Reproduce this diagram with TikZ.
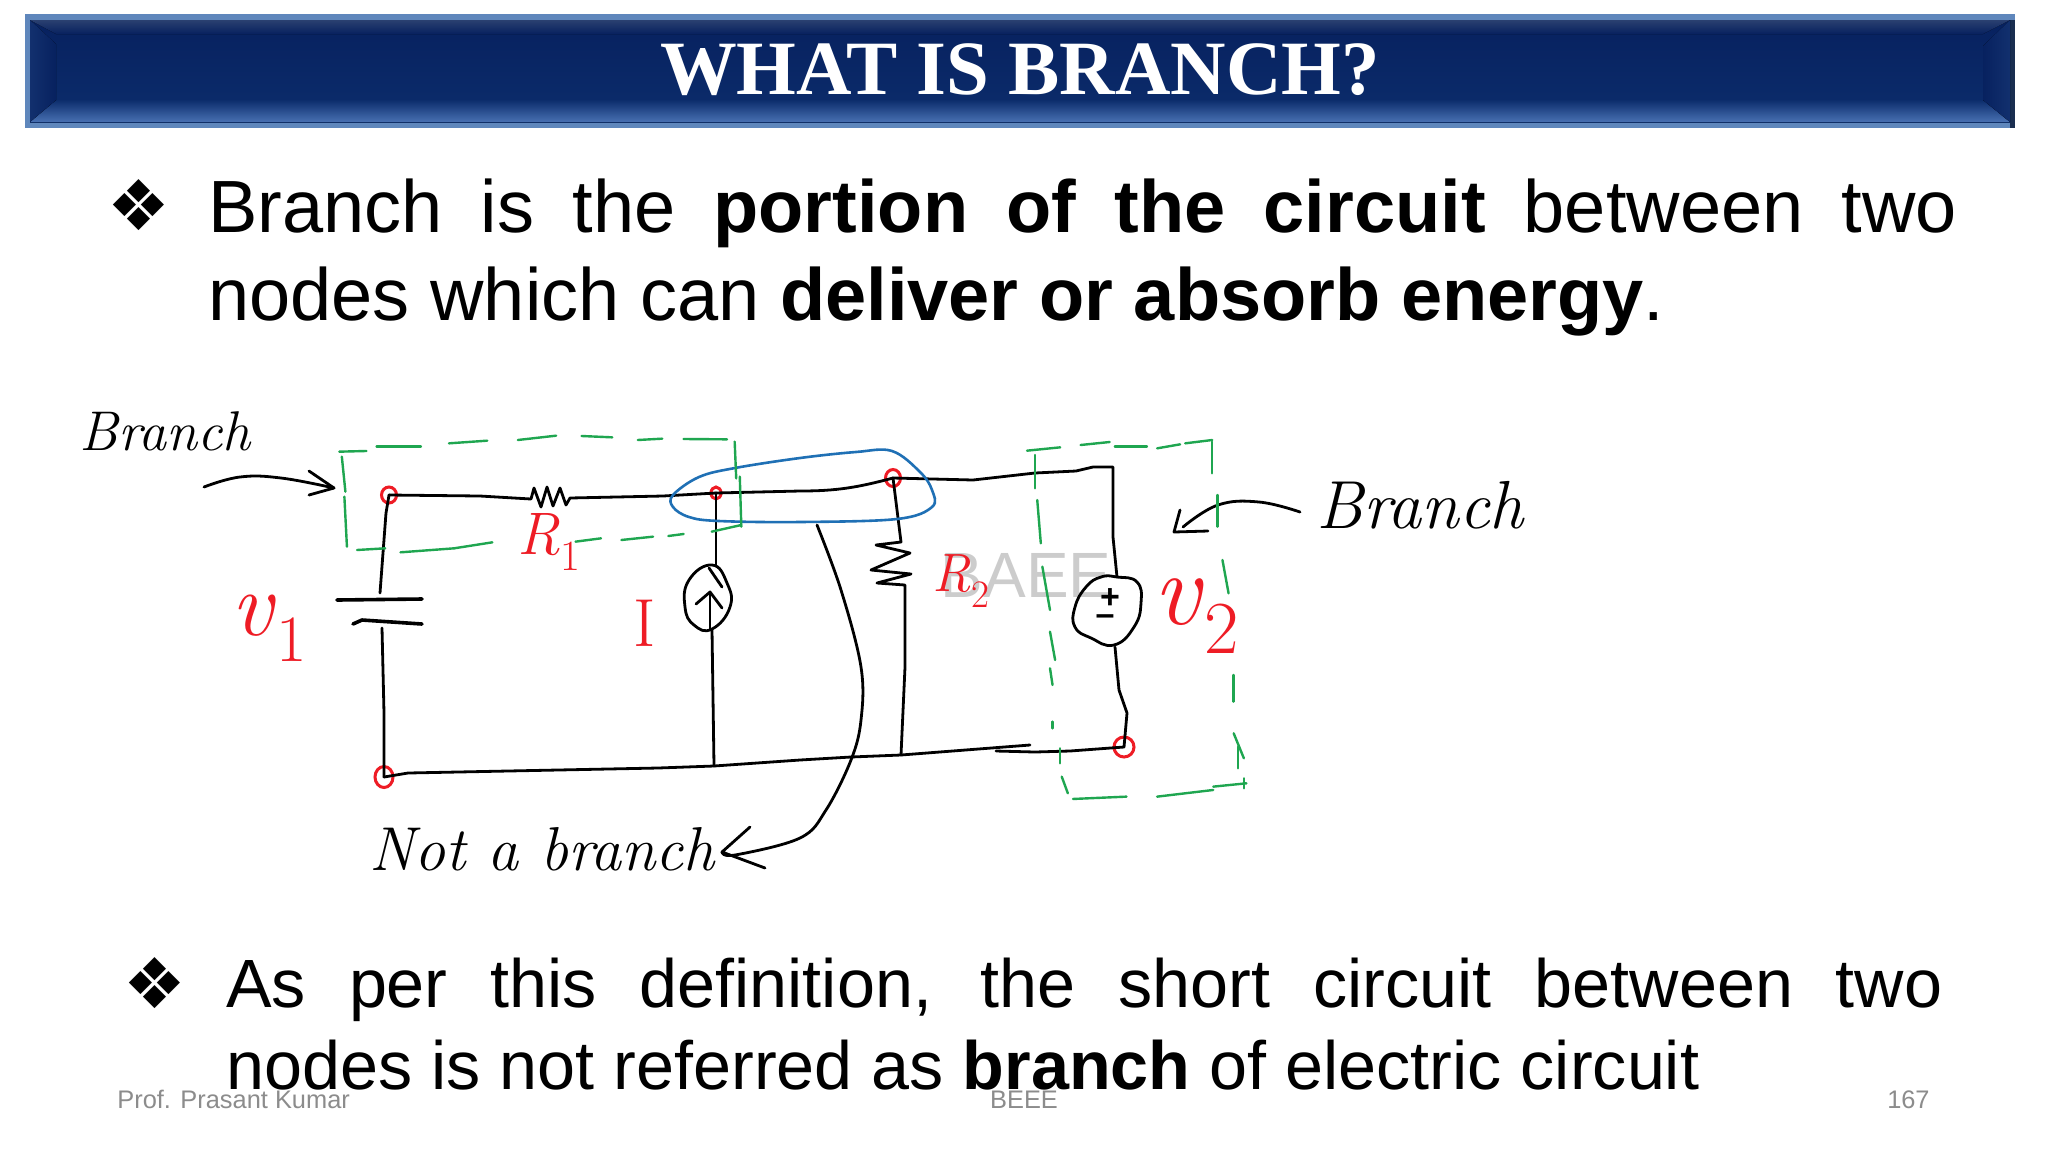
\documentclass[tikz,border=0pt]{standalone}
\usepackage{fontspec}
\usetikzlibrary{shapes.geometric}
\newfontfamily\bodyf{Liberation Sans}
\newfontfamily\titlef{Liberation Serif}
\newfontfamily\symf{DejaVu Sans}
\newcommand{\handsub}[2]{\textit{#1}\raisebox{-.28em}{\scalebox{.72}{#2}}}
\definecolor{navy}{HTML}{07215F}
\definecolor{navyb}{HTML}{0C2D6C}
\definecolor{rimc}{HTML}{5F87BC}
\definecolor{bevT}{HTML}{2A4070}
\definecolor{bevB}{HTML}{4870B2}
\definecolor{bevL}{HTML}{12306E}
\definecolor{rimd}{HTML}{1A2E50}
\definecolor{gbox}{HTML}{1FA650}
\definecolor{bluep}{HTML}{1F70B5}
\definecolor{redp}{HTML}{EE1C25}
\definecolor{foot}{HTML}{8C8C8C}
\tikzset{
  wire/.style={draw=black,line width=1.4pt,line cap=round,line join=round},
  penred/.style={draw=redp,line width=1.5pt,ellipse,inner sep=0pt},
  gdash/.style={draw=gbox,line width=1.2pt,line cap=round},
  hand/.style={inner sep=0pt,font=\fontsize{#1}{#1}\selectfont\itshape},
  handred/.style={inner sep=0pt,text=redp,font=\fontsize{#1}{#1}\selectfont},
  body/.style={inner sep=0pt,anchor=north west,align=justify,text width=#1},
  footn/.style={inner sep=0pt,text=foot,font=\bodyf\fontsize{12.7}{14}\selectfont,anchor=base},
  bull/.style={inner sep=0pt,font=\symf\fontsize{35}{35}\selectfont},
  signn/.style={inner sep=0pt,font=\bodyf\bfseries\fontsize{#1}{#1}\selectfont}
}
\begin{document}
\begin{tikzpicture}[x=0.5pt,y=-0.5pt]
\useasboundingbox (0,0) rectangle (2048,1152);
\fill[white] (0,0) rectangle (2048,1152);
% header
\fill[rimc] (25,14) rectangle (2015,128);
\fill[rimd] (2010,20) rectangle (2015,128);
\fill[top color=navy,bottom color=navyb] (30,20) rectangle (2010,122);
\fill[top color=bevT,bottom color=navy] (30,20) -- (2010,20) -- (1983,34) -- (56,34) -- cycle;
\fill[top color=navyb,bottom color=bevB] (30,122) -- (2010,122) -- (1983,100) -- (56,100) -- cycle;
\fill[left color=bevL,right color=navy] (30,20) -- (56,44) -- (56,100) -- (30,122) -- cycle;
\fill[left color=navy,right color=bevL] (2010,20) -- (1983,46) -- (1983,100) -- (2010,122) -- cycle;
\node[inner sep=0pt,text=white,font=\titlef\bfseries\fontsize{38.4}{40}\selectfont] (title) at (1020,70) {WHAT IS BRANCH?};
% bullets and body
\node[bull] (b1) at (139,205) {❖};
\node[bull] (b2) at (155,983) {❖};
\node[body=874.2pt,font=\bodyf\fontsize{37}{44}\selectfont] (p1) at (208,178) {Branch is the \textbf{portion of the circuit} between two\linebreak nodes which can \textbf{deliver or absorb energy}.};
\node[body=858pt,font=\bodyf\fontsize{34.15}{40.8}\selectfont] (p2) at (226,958) {As per this definition, the short circuit between two\linebreak nodes is not referred as \textbf{branch} of electric circuit};
% footer
\node[footn,anchor=base west] (f1) at (117,1108) {Prof. Prasant Kumar};
\node[footn] (f2) at (1024,1108) {BEEE};
\node[footn,anchor=base east] (f3) at (1930,1108) {167};
% watermark
\node[inner sep=0pt,text=black!20,font=\bodyf\fontsize{32}{32}\selectfont] (wm) at (1026,575) {BAEE};
% terminals
\node[penred,minimum width=7.5pt,minimum height=8pt] (n1) at (389,495) {};
\node[penred,minimum width=5pt,minimum height=6pt] (n2) at (716,493) {};
\node[penred,minimum width=7.5pt,minimum height=8.5pt] (n3) at (893,478) {};
\node[penred,minimum width=9pt,minimum height=10.5pt] (n4) at (384,777) {};
\node[penred,minimum width=10pt,minimum height=10pt] (n5) at (1124,747) {};
\coordinate (jb) at (714,766);
\coordinate (jc) at (901,755);
% wires
\draw[wire] (n1.center) -- (480,496) -- (531,499) -- (534,488) -- (541,507) -- (547,487) -- (553,506) -- (560,488) -- (566,505) -- (570,498) -- (663,496) -- (n2.center);
\draw[wire] (n2.center) -- (800,491) to[out=0,in=195] (n3.center);
\draw[wire] (n3.center) -- (973,480) -- (1035,473) -- (1076,471) -- (1093,467) -- (1113,467) -- (1113,537) -- (1117,577);
\draw[wire] plot[smooth cycle,tension=.8] coordinates {(1117,577) (1137,582) (1141,603) (1134,627) (1114,645) (1091,638) (1075,627) (1075,607) (1086,587) (1101,577)};
\node[signn=17] (vp) at (1110,599) {+};
\node[signn=17] (vm) at (1105,620) {–};
\draw[wire] (1115,647) -- (1119,690) -- (1127,713) -- (n5.center);
\draw[wire] (n5.center) -- (1070,751) -- (1035,752) -- (996,751);
\draw[wire] (1030,745) -- (jc) -- (851,757) -- (800,760) -- (jb) -- (658,768) -- (408,773) -- (n4.center);
\draw[wire] (n1.center) -- (386,513) -- (380,593);
\draw[wire,line width=1.8pt] (337,600) -- (422,599);
\draw[wire,line width=1.8pt] (353,624) -- (362,620) -- (422,624);
\draw[wire] (382,628) -- (384,713) -- (n4.center);
% current source
\draw[wire] (n2.center) -- (716,565);
\draw[wire] plot[smooth cycle,tension=.8] coordinates {(712,565) (727,583) (730,607) (712,629) (694,625) (685,607) (689,580)};
\draw[wire] (712,630) -- (jb);
\draw[wire] (710,630) -- (710,592);
\draw[wire] (696,604) -- (710,592) -- (722,608);
\draw[wire] (709,568) -- (722,587);
% R2
\draw[wire] (n3.center) -- (901,542) -- (876,545) -- (910,553) -- (871,570) -- (911,574) -- (877,583) -- (905,585) -- (905,667) -- (jc);
% blue outline
\draw[draw=bluep,line width=1.3pt] plot[smooth cycle,tension=.6] coordinates {(800,458) (735,468) (699,477) (673,495) (673,507) (689,517) (719,521) (800,522) (897,519) (932,507) (932,490) (920,472) (892,451) (856,452)};
% not a branch
\node[hand=31] (nb) at (542,849) {Not a branch};
\coordinate (nbt) at (722,852);
\coordinate (bb) at (817,525);
\draw[wire] plot[smooth,tension=.6] coordinates {(bb) (841,590) (861,667) (861,720) (851,760) (826,810) (800,838) (735,855) (nbt)};
\draw[wire] (750,827) -- (nbt) -- (765,868);
% branch labels
\node[hand=28] (br1) at (165,431) {Branch};
\node[hand=34] (br2) at (1420,505) {Branch};
\coordinate (b1e) at (334,488);
\coordinate (b2e) at (1174,532);
\draw[wire] plot[smooth,tension=.7] coordinates {(204,487) (240,477) (281,478) (b1e)};
\draw[wire] (309,471) -- (b1e) -- (309,495);
\draw[wire] plot[smooth,tension=.7] coordinates {(1300,512) (1259,502) (1218,505) (1183,527)};
\draw[wire] (1180,510) -- (b2e) -- (1208,531);
% red labels
\node[handred=30] (r1) at (549,542) {\handsub{R}{1}};
\node[handred=27] (r2) at (961,581) {\handsub{R}{2}};
\node[handred=34] (ii) at (645,623) {I};
\node[handred=46] (v1) at (269,628) {\handsub{v}{1}};
\node[handred=52] (v2) at (1196,616) {\handsub{v}{2}};
% green dashed box, left
\begin{scope}[shift={(0,380)},xscale=.5102,yscale=.3333]
\foreach \a/\b/\c/\d in {665/215/718/213,738/200/825/200,880/190/955/182,1015/180/1090/167,1140/168/1200/172,1250/180/1298/176,1340/177/1425/178,1440/185/1443/295,1450/290/1453/440,1453/435/1395/455,1340/462/1310/468,1280/470/1218/480,1178/475/1128/485,965/487/890/505,890/505/785/517,755/505/700/510,670/230/677/335,675/350/680/500}
  \draw[gdash] (\a,\b) -- (\c,\d);
\end{scope}
% green dashed box, right
\begin{scope}[shift={(800,400)},xscale=.5102,yscale=.3333]
\foreach \a/\b/\c/\d in {445/152/510/142,550/135/607/126,617/140/680/140,700/145/745/133,755/130/808/120,808/125/808/220,818/285/818/380,828/480/840/580,850/825/850/905,850/1000/870/1075,858/1040/858/1105,870/1135/870/1165,875/1150/810/1160,810/1170/700/1190,640/1190/535/1197,460/165/460/265,465/300/472/430,475/500/490/630,490/695/500/780,490/805/495/855,495/965/495/985,510/1045/510/1090,513/1130/525/1180}
  \draw[gdash] (\a,\b) -- (\c,\d);
\end{scope}
\end{tikzpicture}
\end{document}
